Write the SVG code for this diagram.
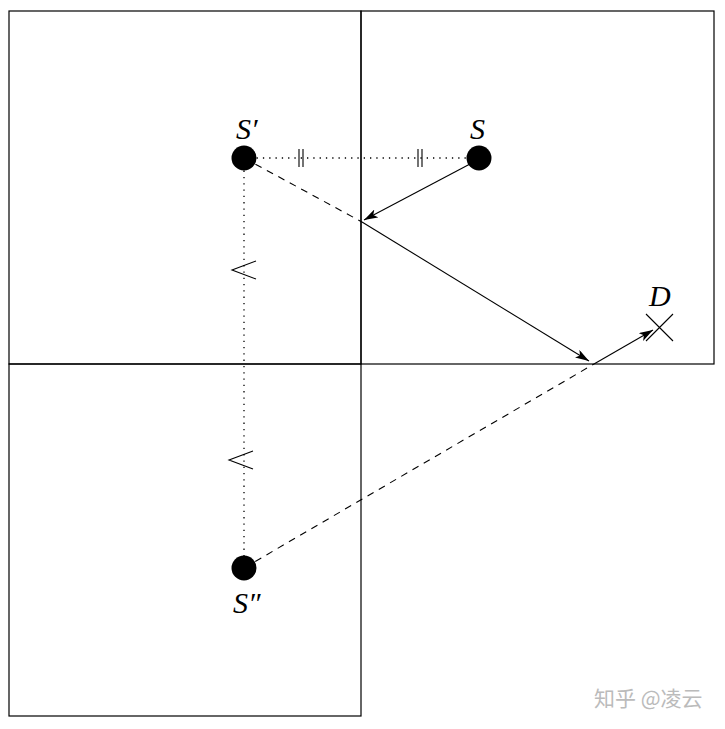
<svg xmlns="http://www.w3.org/2000/svg" width="725" height="729" viewBox="0 0 725 729">
<style>
.wall{fill:none;stroke:#000;stroke-width:1.2}
.dot{fill:none;stroke:#000;stroke-width:1.3;stroke-dasharray:1.3 5}
.dash{fill:none;stroke:#000;stroke-width:1.1;stroke-dasharray:7 6}
.ray{fill:none;stroke:#000;stroke-width:1.1}
.mk{fill:none;stroke:#000;stroke-width:1.1}
.lbl{font-family:"Liberation Serif",serif;font-style:italic;font-size:30px;fill:#000}
</style>
<defs>
<marker id="ah" viewBox="0 0 14 9" refX="14" refY="4.5" markerWidth="14" markerHeight="9" markerUnits="userSpaceOnUse" orient="auto">
<path d="M0,0 L14,4.5 L0,9 L3.5,4.5 Z" fill="#000"/>
</marker>
</defs>
<rect width="725" height="729" fill="#fff"/>
<g id="rooms">
<rect class="wall" x="9" y="11" width="352" height="353"/>
<rect class="wall" x="361" y="11" width="353" height="353"/>
<rect class="wall" x="9" y="364" width="352" height="352"/>
</g>
<g id="connectors">
<line class="dot" x1="244" y1="158" x2="479" y2="158"/>
<line class="dot" x1="244" y1="158" x2="244" y2="568"/>
<line class="dash" x1="244" y1="158" x2="362" y2="222"/>
<line class="dash" x1="244" y1="568" x2="594" y2="364"/>
<line class="ray" x1="470" y1="164" x2="364" y2="220" marker-end="url(#ah)"/>
<line class="ray" x1="362" y1="222" x2="589" y2="361" marker-end="url(#ah)"/>
<line class="ray" x1="594" y1="364" x2="653" y2="330" marker-end="url(#ah)"/>
<path class="mk" d="M299,149 V167 M303,149 V167 M418,149 V167 M422,149 V167"/>
<path class="mk" d="M256,261 L232,270 L256,279"/>
<path class="mk" d="M253,451 L229,460 L253,469"/>
</g>
<g id="S_prime">
<circle cx="244" cy="158" r="12.5" fill="#000"/>
<text class="lbl" x="236" y="139">S′</text>
</g>
<g id="S">
<circle cx="479" cy="158" r="12.5" fill="#000"/>
<text class="lbl" x="470" y="139">S</text>
</g>
<g id="S_double_prime">
<circle cx="244" cy="568" r="12.5" fill="#000"/>
<text class="lbl" x="233" y="613">S″</text>
</g>
<g id="D">
<path class="mk" d="M646,314 L673,341 M646,341 L673,314"/>
<text class="lbl" x="649" y="306">D</text>
</g>
<text x="594" y="706" font-family="Noto Sans CJK SC, sans-serif" font-size="21" fill="#bbb">知乎 @凌云</text>
</svg>
